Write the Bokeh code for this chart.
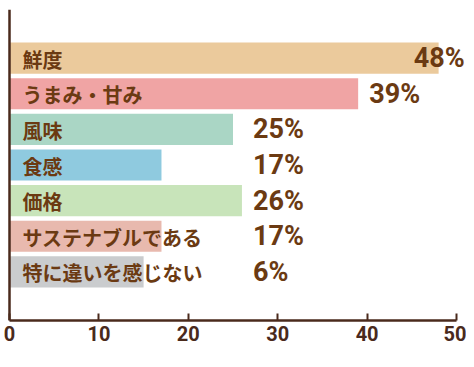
from bokeh.plotting import figure
from bokeh.models import Range1d, ColumnDataSource
from bokeh.core.properties import value
from bokeh.embed import file_html
from bokeh.resources import INLINE
import numpy as np

categories = ["鮮度", "うまみ・甘み", "風味", "食感", "価格", "サステナブルである", "特に違いを感じない"]
bar_values = [48, 39, 25, 17, 26, 17, 15]
pct_labels = ["48%", "39%", "25%", "17%", "26%", "17%", "6%"]
x_ticks = [0, 10, 20, 30, 40, 50]

colors = ["#EBCA9C", "#F0A4A4", "#AAD6C5", "#8FCADF", "#C8E4BA", "#E8B9AE", "#CACCCE"]
text_color = "#6B3A12"
axis_color = "#4A2A1C"

W, H = 466, 359
px_per_unit = 8.94
border_left = 7
x_start = -2 / px_per_unit
x_end = x_start + (W - border_left) / px_per_unit

p = figure(width=W, height=H, output_backend="svg", toolbar_location=None,
           x_range=Range1d(x_start, x_end), y_range=Range1d(7.366, -1.366),
           min_border_left=border_left, min_border_right=0, min_border_top=9, min_border_bottom=39)
p.outline_line_color = None
p.grid.visible = False
p.yaxis.visible = False
p.background_fill_color = "white"
p.border_fill_color = "white"

ys = list(range(len(categories)))
src = ColumnDataSource(dict(y=ys, v=bar_values, c=colors, cat=categories,
                            lab=pct_labels,
                            lx=list(np.clip(np.array(bar_values, dtype=float), 26, 44.0))))

p.hbar(y="y", left=0, right="v", height=0.873, fill_color="c", line_color=None, source=src)

p.text(x=0, y="y", text="cat", source=src, x_offset=13, y_offset=1,
       text_font=value("Noto Sans CJK JP"), text_font_size="20px", text_font_style="bold",
       text_color=text_color, text_baseline="middle", text_align="left")

p.text(x="lx", y="y", text="lab", source=src, x_offset=11, y_offset=0,
       text_font=value("Roboto"), text_font_size="27px", text_font_style="bold",
       text_color=text_color, text_baseline="middle", text_align="left")

# left axis line
p.segment(x0=[0], y0=[7.366], x1=[0], y1=[-1.366], line_color=axis_color, line_width=2.5)

ax = p.xaxis[0]
ax.bounds = (0, 50)
ax.ticker = x_ticks
ax.axis_line_color = axis_color
ax.axis_line_width = 2.5
ax.major_tick_line_color = axis_color
ax.major_tick_line_width = 2
ax.major_tick_in = 7
ax.major_tick_out = 0
ax.minor_tick_line_color = None
ax.major_label_text_font = "Roboto"
ax.major_label_text_font_size = "20px"
ax.major_label_text_font_style = "bold"
ax.major_label_text_color = axis_color
ax.major_label_standoff = 5

open("out.html", "w").write(file_html(p, INLINE))
